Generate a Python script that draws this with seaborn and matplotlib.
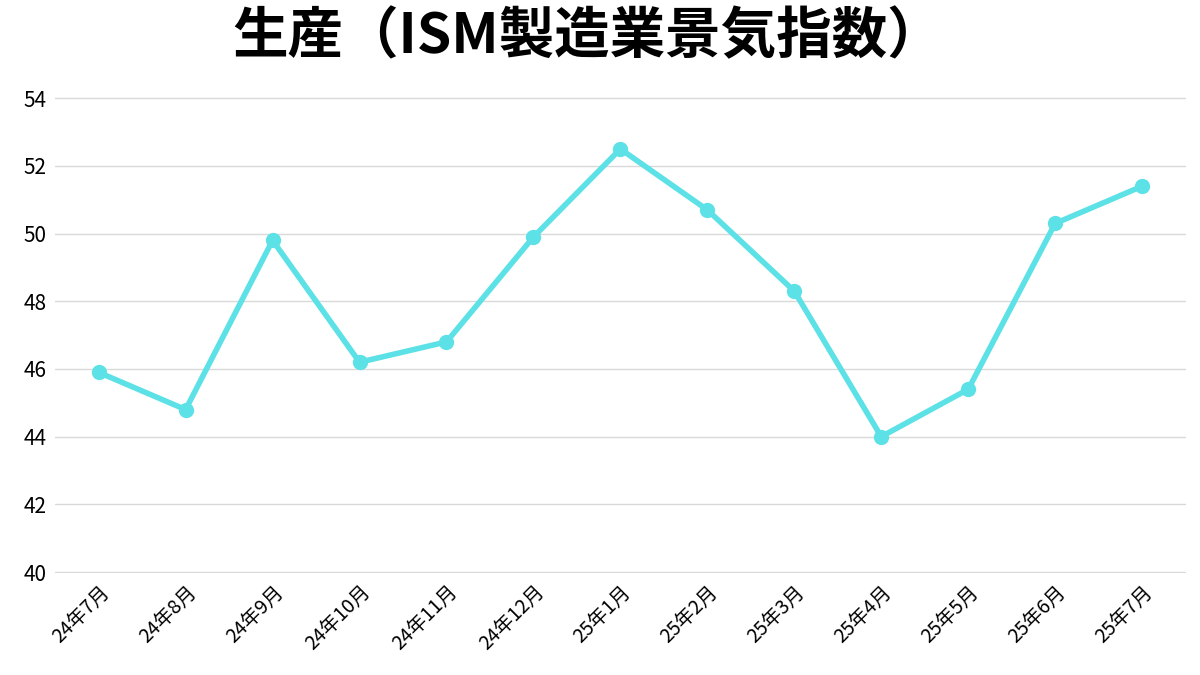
import matplotlib
matplotlib.use("Agg")
import matplotlib.pyplot as plt
import seaborn as sns
import pandas as pd

months = ["24年7月","24年8月","24年9月","24年10月","24年11月","24年12月","25年1月","25年2月","25年3月","25年4月","25年5月","25年6月","25年7月"]
values = [45.9, 44.8, 49.8, 46.2, 46.8, 49.9, 52.5, 50.7, 48.3, 44.0, 45.4, 50.3, 51.4]
yticks = [40, 42, 44, 46, 48, 50, 52, 54]

sns.set_theme(style="white")
plt.rcParams['font.family'] = ['Noto Sans CJK JP', 'DejaVu Sans']

df = pd.DataFrame({"month": months, "value": values})
fig = plt.figure(figsize=(12, 6.75), dpi=100)
ax = fig.add_axes([0.046, 0.151, 0.942, 0.705])
sns.lineplot(data=df, x="month", y="value", ax=ax, color="#5CE1E6", linewidth=4,
             marker="o", markersize=11, markeredgewidth=0, sort=False)
ax.set_xlim(-0.5, len(months) - 0.5)
ax.set_ylim(39.97, 54.03)
ax.set_yticks(yticks)
ax.set_yticklabels([str(v) for v in yticks], fontsize=15, color="black")
ax.set_xticks(range(len(months)))
ax.set_xticklabels(months, rotation=45, ha="right", rotation_mode="anchor", fontsize=14, color="black")
ax.grid(axis="y", color="#d9d9d9", linewidth=1)
for s in ax.spines.values():
    s.set_visible(False)
ax.tick_params(axis="both", length=0, pad=6)
ax.set_xlabel("")
ax.set_ylabel("")
fig.text(0.49, 0.945, "生産（ISM製造業景気指数）", fontsize=40, fontweight="bold",
         color="black", ha="center", va="center")
fig.savefig("out.png", dpi=100)
